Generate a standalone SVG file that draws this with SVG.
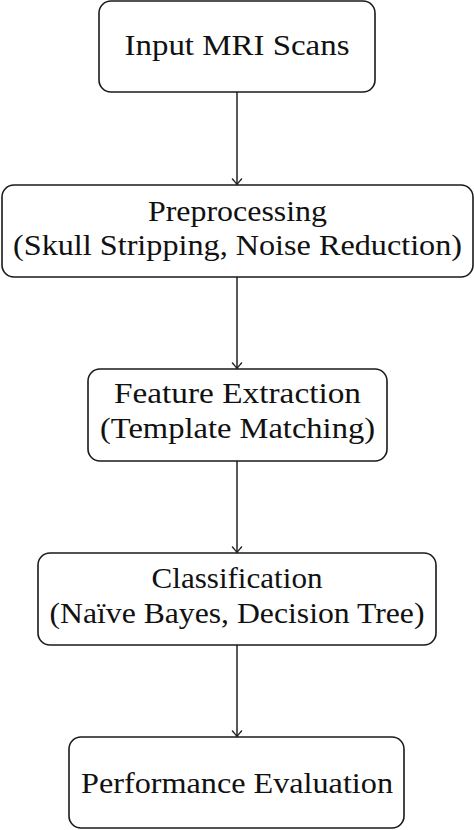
<svg xmlns="http://www.w3.org/2000/svg" width="474" height="830" viewBox="0 0 474 830">
<defs>
<style>
.box{fill:#ffffff;stroke:#1a1a1a;stroke-width:1.6}
.lbl{font-family:"Liberation Serif","DejaVu Serif",serif;font-size:29.5px;fill:#111111;text-anchor:middle}
.edge{stroke:#1a1a1a;stroke-width:1.45;fill:none}
</style>
<marker id="arr" markerUnits="userSpaceOnUse" markerWidth="12" markerHeight="12" viewBox="-7 -6 8 12" refX="0" refY="0" orient="auto">
<path d="M -5.5,-4.6 C -2.5,-2 -1,-0.6 0,0 C -1,0.6 -2.5,2 -5.5,4.6" fill="none" stroke="#1a1a1a" stroke-width="1.35" stroke-linecap="round"/>
</marker>
</defs>
<rect width="474" height="830" fill="#ffffff"/>
<g id="connectors">
<line class="edge" x1="237" y1="92" x2="237" y2="184.5" marker-end="url(#arr)"/>
<line class="edge" x1="237" y1="277" x2="237" y2="368.5" marker-end="url(#arr)"/>
<line class="edge" x1="237" y1="461" x2="237" y2="552.5" marker-end="url(#arr)"/>
<line class="edge" x1="237" y1="645" x2="237" y2="736.5" marker-end="url(#arr)"/>
</g>
<g id="node-input">
<rect class="box" x="99" y="1" width="276" height="91" rx="12"/>
<text class="lbl" x="237" y="55" textLength="225" lengthAdjust="spacingAndGlyphs">Input MRI Scans</text>
</g>
<g id="node-preprocessing">
<rect class="box" x="2" y="185" width="471" height="92" rx="12"/>
<text class="lbl" x="237.5" y="221" textLength="179" lengthAdjust="spacingAndGlyphs">Preprocessing</text>
<text class="lbl" x="237.5" y="255" textLength="449" lengthAdjust="spacingAndGlyphs">(Skull Stripping, Noise Reduction)</text>
</g>
<g id="node-feature">
<rect class="box" x="88" y="369" width="299" height="92" rx="12"/>
<text class="lbl" x="237.5" y="403" textLength="247" lengthAdjust="spacingAndGlyphs">Feature Extraction</text>
<text class="lbl" x="237.5" y="438" textLength="275" lengthAdjust="spacingAndGlyphs">(Template Matching)</text>
</g>
<g id="node-classification">
<rect class="box" x="38" y="553" width="398" height="92" rx="12"/>
<text class="lbl" x="237" y="588" textLength="171" lengthAdjust="spacingAndGlyphs">Classification</text>
<text class="lbl" x="237" y="623" textLength="375" lengthAdjust="spacingAndGlyphs">(Naïve Bayes, Decision Tree)</text>
</g>
<g id="node-evaluation">
<rect class="box" x="69" y="737" width="335" height="91" rx="12"/>
<text class="lbl" x="237" y="793" textLength="312" lengthAdjust="spacingAndGlyphs">Performance Evaluation</text>
</g>
</svg>
